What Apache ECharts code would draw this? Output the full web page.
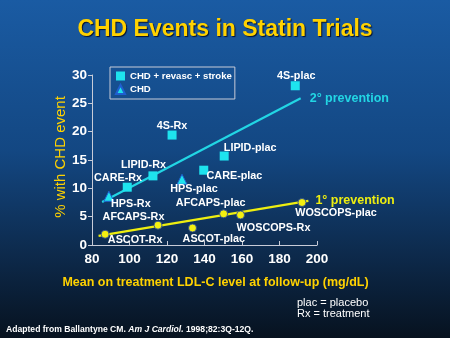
<!DOCTYPE html>
<html><head><meta charset="utf-8">
<script src="https://cdn.jsdelivr.net/npm/echarts@6/dist/echarts.min.js"></script>
<style>html,body{margin:0;padding:0;background:#0b1a2e}#c{width:450px;height:338px}</style>
</head><body><div id="c"></div>
<script>
// ---- data ----
var xTicks = [80, 100, 120, 140, 160, 180, 200];
var yTicks = [0, 5, 10, 15, 20, 25, 30];
var sqNames = ['4S-plac', '4S-Rx', 'LIPID-plac', 'CARE-plac', 'LIPID-Rx', 'CARE-Rx'];
var sqX = [188.4, 122.7, 150.5, 139.6, 112.5, 98.8];
var sqY = [28.1, 19.4, 15.7, 13.2, 12.2, 10.2];
var triNames = ['HPS-plac', 'HPS-Rx'];
var triX = [128, 89];
var triY = [11.6, 8.6];
var cirNames = ['ASCOT-Rx', 'AFCAPS-Rx', 'ASCOT-plac', 'AFCAPS-plac', 'WOSCOPS-Rx', 'WOSCOPS-plac'];
var cirX = [87, 115.2, 133.6, 150.2, 159.2, 192];
var cirY = [1.9, 3.5, 3.0, 5.5, 5.3, 7.5];
var secX = [85.4, 191.3], secY = [7.6, 25.9];
var priX = [83.5, 195.4], priY = [1.6, 7.8];

// ---- label layout (styling only) ----
var sqOff = [[1, -9.5], [0, -9.5], [26, -8.5], [30.7, 5.7], [-9.5, -10.7], [-9.2, -8.7]];
var triOff = [[12, 10], [22, 7.3]];
var cirOff = [[30, 6], [-24.5, -8], [21.3, 10.7], [-13, -10.4], [33, 13.3], [34, 11]];

var F = 'Liberation Sans, Arial, sans-serif';
var lblBase = {show: true, position: 'inside', color: '#ffffff', fontFamily: F, fontWeight: 'bold', fontSize: 10.8, align: 'center', verticalAlign: 'middle'};
function pts(names, xs, ys, offs) {
  return names.map(function (n, i) {
    return {name: n, value: [xs[i], ys[i]], label: Object.assign({}, lblBase, {formatter: n, offset: offs[i]})};
  });
}

var chart = echarts.init(document.getElementById('c'), null, {renderer: 'canvas'});
var option = {
  backgroundColor: {type: 'linear', x: 0, y: 0, x2: 0, y2: 1, colorStops: [
    {offset: 0, color: '#1a5ba3'}, {offset: 0.45, color: '#134782'}, {offset: 0.75, color: '#0d2a4c'}, {offset: 1, color: '#07121f'}]},
  animation: false,
  grid: {left: 92, right: 133, top: 75, bottom: 93},
  legend: {
    show: true, orient: 'vertical', left: 110, top: 67,
    borderColor: '#c8ccd8', borderWidth: 1, padding: [4, 3, 4, 5],
    itemWidth: 9, itemHeight: 9, itemGap: 3,
    textStyle: {color: '#ffffff', fontFamily: F, fontWeight: 'bold', fontSize: 9.6},
    data: [{name: 'CHD + revasc + stroke', icon: 'rect'}, {name: 'CHD', icon: 'triangle'}]
  },
  xAxis: {
    type: 'value', min: 80, max: 200, interval: 20,
    axisLine: {show: true, lineStyle: {color: '#c8ccd8', width: 1}},
    axisTick: {show: true, inside: true, length: 4, lineStyle: {color: '#c8ccd8'}},
    splitLine: {show: false},
    axisLabel: {color: '#ffffff', fontFamily: F, fontWeight: 'bold', fontSize: 13.5, margin: 7,
      customValues: xTicks}
  },
  yAxis: {
    type: 'value', min: 0, max: 30, interval: 5,
    axisLine: {show: true, lineStyle: {color: '#c8ccd8', width: 1}},
    axisTick: {show: true, length: 4, lineStyle: {color: '#c8ccd8'}},
    splitLine: {show: false},
    axisLabel: {color: '#ffffff', fontFamily: F, fontWeight: 'bold', fontSize: 13.5, margin: 5}
  },
  series: [
    {
      type: 'line', name: 'sec', data: secX.map(function (x, i) { return [x, secY[i]]; }),
      symbol: 'none', lineStyle: {color: '#22d6e4', width: 2.2}, z: 2,
      endLabel: {show: true, formatter: '2° prevention', color: '#22d6e4', fontFamily: F, fontWeight: 'bold', fontSize: 12.5, distance: 9}
    },
    {
      type: 'line', name: 'pri', data: priX.map(function (x, i) { return [x, priY[i]]; }),
      symbol: 'none', lineStyle: {color: '#eeee10', width: 2.2}, z: 2,
      endLabel: {show: true, formatter: '1° prevention', color: '#eeee10', fontFamily: F, fontWeight: 'bold', fontSize: 12.5, distance: 7}
    },
    {
      type: 'scatter', name: 'CHD + revasc + stroke', symbol: 'rect', symbolSize: 9,
      itemStyle: {color: '#1ee3ee', opacity: 1}, z: 3,
      data: pts(sqNames, sqX, sqY, sqOff)
    },
    {
      type: 'scatter', name: 'CHD', symbol: 'triangle', symbolSize: 10,
      itemStyle: {color: '#1ee3ee', borderColor: '#1f5fd0', borderWidth: 1, opacity: 1}, z: 3,
      data: pts(triNames, triX, triY, triOff)
    },
    {
      type: 'scatter', name: 'primary', symbol: 'circle', symbolSize: 8,
      itemStyle: {color: '#f4f010', borderColor: '#1a3fa0', borderWidth: 0.8, opacity: 1}, z: 3,
      data: pts(cirNames, cirX, cirY, cirOff)
    }
  ],
  graphic: [
    {type: 'text', left: 'center', top: 18, style: {text: 'CHD Events in Statin Trials', fill: '#ffd200', font: 'bold 23px ' + F,
      textShadowColor: 'rgba(0,0,20,0.8)', textShadowBlur: 1, textShadowOffsetX: 1, textShadowOffsetY: 1}},
    {type: 'text', x: 61, y: 157, rotation: Math.PI / 2, style: {text: '% with CHD event', fill: '#ffd200', font: '15px ' + F, align: 'center', verticalAlign: 'middle'}},
    {type: 'text', x: 215.5, y: 283, style: {text: 'Mean on treatment LDL-C level at follow-up (mg/dL)', fill: '#ffd200', font: 'bold 12.5px ' + F, align: 'center', verticalAlign: 'middle'}},
    {type: 'text', x: 297, y: 302.5, style: {text: 'plac = placebo', fill: '#ffffff', font: '11px ' + F, align: 'left', verticalAlign: 'middle'}},
    {type: 'text', x: 297, y: 314, style: {text: 'Rx = treatment', fill: '#ffffff', font: '11px ' + F, align: 'left', verticalAlign: 'middle'}},
    {type: 'text', x: 6, y: 330, style: {
      text: '{b|Adapted from Ballantyne CM. }{i|Am J Cardiol.}{b| 1998;82:3Q-12Q.}',
      verticalAlign: 'middle', align: 'left',
      rich: {b: {fill: '#ffffff', font: 'bold 8.6px ' + F}, i: {fill: '#ffffff', font: 'italic bold 8.6px ' + F}}
    }}
  ]
};
chart.setOption(option);
</script></body></html>
